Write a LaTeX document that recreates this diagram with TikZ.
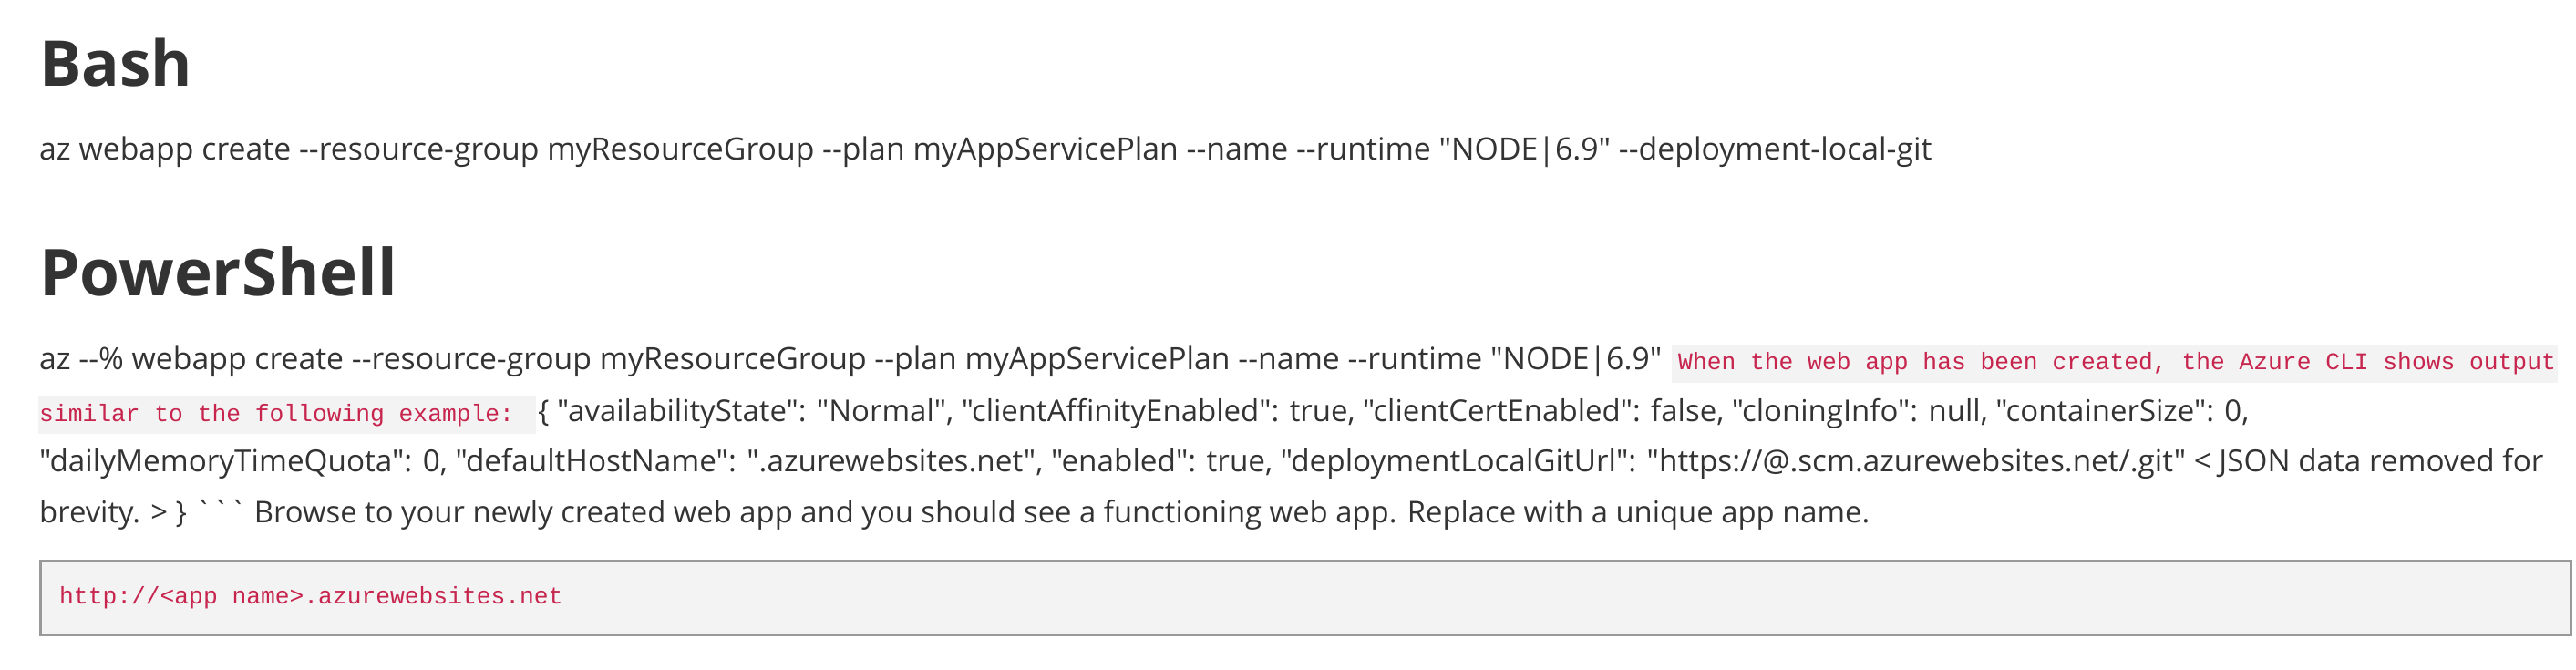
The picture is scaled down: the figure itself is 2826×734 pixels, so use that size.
\documentclass[tikz,border=0pt]{standalone}
\usepackage{fontspec}
\usepackage{graphicx}
\newfontfamily\bodyf{Open Sans}[Ligatures=NoCommon]
\newfontfamily\codef{Liberation Mono}[Ligatures=NoCommon]
\definecolor{txt}{HTML}{333333}
\definecolor{codered}{HTML}{C7254E}
\definecolor{codebg}{HTML}{F3F3F3}
\definecolor{boxline}{HTML}{999999}
\newcommand{\dd}{-{}-}
\newcommand{\bq}{\symbol{96}}
\newcommand{\fitw}[2]{\resizebox{#1}{!}{#2}}
\tikzset{
  line/.style={anchor=base west, inner sep=0pt, text=txt, font=\bodyf\fontsize{34}{40}\selectfont},
  head/.style={anchor=base west, inner sep=0pt, text=txt, font=\bodyf\bfseries\fontsize{86}{100}\selectfont},
  code/.style={anchor=base west, inner sep=0pt, text=codered, font=\codef\fontsize{26.3}{30}\selectfont},
  codebox/.style={fill=codebg, draw=none},
}
\begin{document}
\begin{tikzpicture}[x=1pt,y=-1pt]
\useasboundingbox (0,0) rectangle (2826,734);
\node[head] (h1) at (43,94) {\fitw{168pt}{Bash}};
\node[line] (l1) at (43,175) {\fitw{2076pt}{az webapp create \dd resource-group myResourceGroup \dd plan myAppServicePlan \dd name \dd runtime "NODE|6.9" \dd deployment-local-git}};
\node[head] (h2) at (43,324) {\fitw{393pt}{PowerShell}};
% inline code backgrounds
\fill[codebg] (1834,378) rectangle (2806,420);
\fill[codebg] (42,434) rectangle (588,476);
\node[line] (p1) at (43,405) {\fitw{1780pt}{az \dd\% webapp create \dd resource-group myResourceGroup \dd plan myAppServicePlan \dd name \dd runtime "NODE|6.9"}};
\node[code] (c1) at (1841,405) {When the web app has been created, the Azure CLI shows output};
\node[code] (c2) at (43,462) {similar to the following example:};
\node[line] (p2) at (590,462) {\fitw{1877pt}{\{ "availabilityState": "Normal", "clientAffinityEnabled": true, "clientCertEnabled": false, "cloningInfo": null, "containerSize": 0,}};
\node[line] (p3) at (43,517) {\fitw{2747pt}{"dailyMemoryTimeQuota": 0, "defaultHostName": ".azurewebsites.net", "enabled": true, "deploymentLocalGitUrl": "https://@.scm.azurewebsites.net/.git" < JSON data removed for}};
\node[line] (p4) at (43,573) {\fitw{2008pt}{brevity. > \} \bq\bq\bq\ Browse to your newly created web app and you should see a functioning web app. Replace with a unique app name.}};
\node[codebox, draw=boxline, line width=2.5pt, minimum width=2776pt, minimum height=81pt, anchor=north west] (box) at (43,614) {};
\node[code] (c3) at (65,662) {http://<app name>.azurewebsites.net};
\end{tikzpicture}
\end{document}
